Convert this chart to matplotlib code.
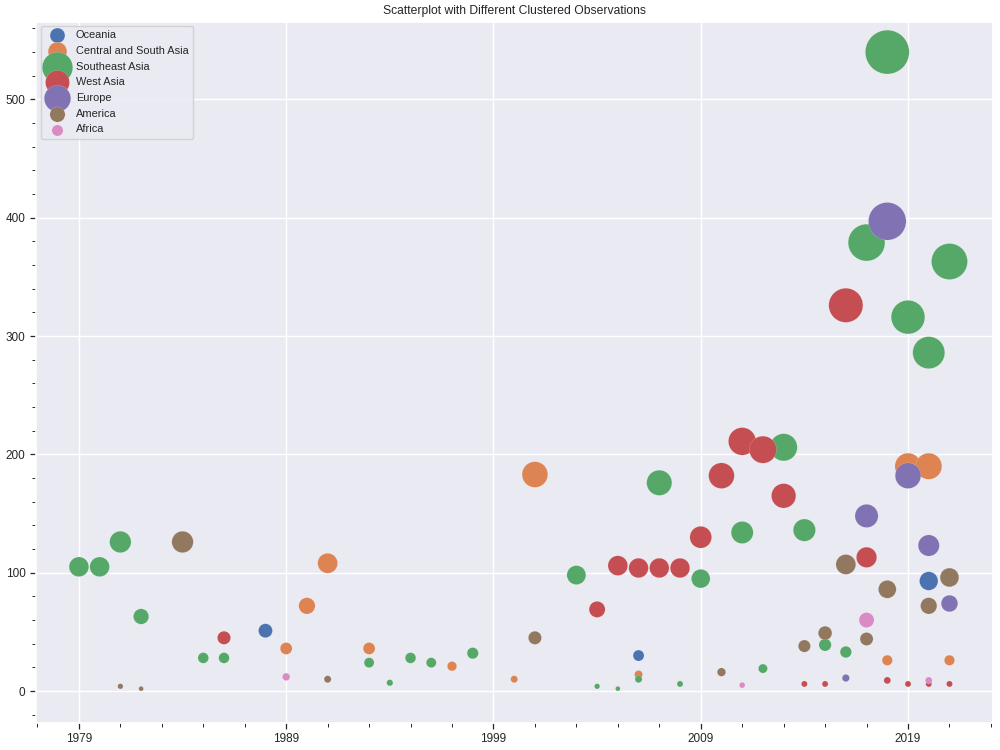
import matplotlib
matplotlib.use("Agg")
import matplotlib.pyplot as plt
from matplotlib.ticker import MultipleLocator, FixedLocator
import seaborn as sns

sns.set_theme(style="darkgrid", palette="deep")
plt.rcParams['font.family'] = ['Liberation Sans', 'DejaVu Sans']

regions = ["Oceania", "Central and South Asia", "Southeast Asia", "West Asia",
           "Europe", "America", "Africa"]

oceania_x = [1988, 2006, 2020]
oceania_y = [51, 30, 93]

csa_x = [1989, 1990, 1991, 1993, 1997, 2000, 2001, 2006, 2018, 2019, 2020, 2021]
csa_y = [36, 72, 108, 36, 21, 10, 183, 14, 26, 190, 190, 26]

sea_x = [1979, 1980, 1981, 1982, 1985, 1986, 1993, 1994, 1995, 1996, 1998, 2003, 2004, 2005,
         2006, 2007, 2008, 2009, 2011, 2012, 2013, 2014, 2015, 2016, 2017, 2018, 2019, 2020, 2021]
sea_y = [105, 105, 126, 63, 28, 28, 24, 7, 28, 24, 32, 98, 4, 2,
         10, 176, 6, 95, 134, 19, 206, 136, 39, 33, 379, 540, 316, 286, 363]

wa_x = [1986, 2004, 2005, 2006, 2007, 2008, 2009, 2010, 2011, 2012, 2013, 2014, 2015, 2016,
        2017, 2018, 2019, 2020, 2021]
wa_y = [45, 69, 106, 104, 104, 104, 130, 182, 211, 204, 165, 6, 6, 326,
        113, 9, 6, 6, 6]

eu_x = [2016, 2017, 2018, 2019, 2020, 2021]
eu_y = [11, 148, 397, 182, 123, 74]

am_x = [1981, 1982, 1984, 1991, 2001, 2010, 2014, 2015, 2016, 2017, 2018, 2020, 2021]
am_y = [4, 2, 126, 10, 45, 16, 38, 49, 107, 44, 86, 72, 96]

af_x = [1989, 2011, 2017, 2020]
af_y = [12, 5, 60, 9]

xs = [oceania_x, csa_x, sea_x, wa_x, eu_x, am_x, af_x]
ys = [oceania_y, csa_y, sea_y, wa_y, eu_y, am_y, af_y]

fig = plt.figure(figsize=(10, 7.5), dpi=100)
ax = fig.add_axes([0.036, 0.036, 0.957, 0.934])

# bubble area follows the value, small ones get a floor
for name, x, y in zip(regions, xs, ys):
    ax.scatter(x, y, s=[8 + v * 1.83 for v in y], label=name, edgecolor="white",
               linewidth=0.1, zorder=3)

ax.set_xlim(1976.93, 2023.1)
ax.set_ylim(-27, 565)
ax.xaxis.set_major_locator(FixedLocator([1979, 1989, 1999, 2009, 2019]))
ax.xaxis.set_minor_locator(FixedLocator(range(1977, 2024, 2)))
ax.yaxis.set_major_locator(MultipleLocator(100))
ax.yaxis.set_minor_locator(MultipleLocator(20))
ax.set_xticklabels(["1979", "1989", "1999", "2009", "2019"])
ax.grid(True, which="major", color="white", linewidth=1)
ax.grid(False, which="minor")
ax.tick_params(which="major", length=4.5, width=0.9, color="#262626",
               labelsize=8.5, labelcolor="#262626", bottom=True, left=True, pad=3)
ax.tick_params(which="minor", length=3, width=0.7, color="#262626", bottom=True, left=True)

ax.set_title("Scatterplot with Different Clustered Observations", fontsize=8.7,
             color="#262626", pad=6)
ax.legend(loc="upper left", fontsize=7.9, frameon=True, labelspacing=0.52, markerscale=0.98,
          bbox_to_anchor=(0.002, 1.0), borderaxespad=0.3, handletextpad=0.75)

fig.savefig("out.png", dpi=100)
